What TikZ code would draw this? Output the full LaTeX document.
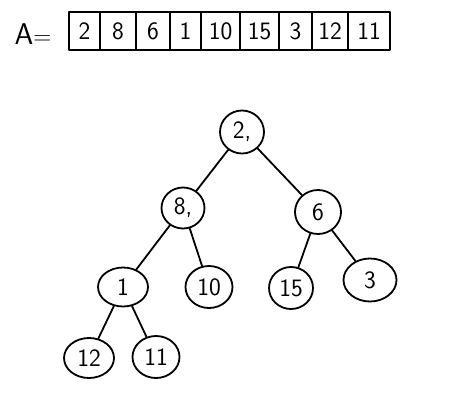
\documentclass[tikz,border=0pt]{standalone}
\usetikzlibrary{positioning,shapes.geometric}
\begin{document}
\begin{tikzpicture}[x=1pt,y=-1pt,
  line width=1.8pt, line cap=round, line join=round,
  every node/.style={font=\sffamily\fontsize{25}{27}\selectfont},
  cell/.style={draw, minimum height=38pt, inner sep=0pt},
  vtx/.style={draw, ellipse, inner sep=0pt},
  edge/.style={draw}]
\useasboundingbox (0,0) rectangle (474,402);
% array
\node (lab) at (33,34) {\fontsize{30}{32}\selectfont A$=$};
\node[cell, minimum width=31pt] (c1) at (84.5,31) {2};
\node[cell, minimum width=36pt] (c2) at (118,31) {8};
\node[cell, minimum width=34pt] (c3) at (153,31) {6};
\node[cell, minimum width=31pt] (c4) at (185.5,31) {1};
\node[cell, minimum width=39pt] (c5) at (220.5,31) {10};
\node[cell, minimum width=39pt] (c6) at (259.5,31) {15};
\node[cell, minimum width=33pt] (c7) at (295.5,31) {3};
\node[cell, minimum width=36pt] (c8) at (330,31) {12};
\node[cell, minimum width=42pt] (c9) at (369,31) {11};
% tree
\node[vtx, minimum width=44pt, minimum height=43pt] (n2) at (242,132) {2,};
\node[vtx, minimum width=43pt, minimum height=41pt] (n8) at (183,208) {8,};
\node[vtx, minimum width=46pt, minimum height=44pt] (n6) at (318,212) {6};
\node[vtx, minimum width=50pt, minimum height=39pt] (n1) at (123,287) {1};
\node[vtx, minimum width=47pt, minimum height=42pt] (n10) at (209,287) {10};
\node[vtx, minimum width=44pt, minimum height=42pt] (n15) at (291,288) {15};
\node[vtx, minimum width=53pt, minimum height=43pt] (n3) at (370,280) {3};
\node[vtx, minimum width=50pt, minimum height=40pt] (n12) at (89,358) {12};
\node[vtx, minimum width=47pt, minimum height=42pt] (n11) at (156,357) {11};
\draw[edge] (n2) -- (n8);
\draw[edge] (n2) -- (n6);
\draw[edge] (n8) -- (n1);
\draw[edge] (n8) -- (n10);
\draw[edge] (n6) -- (n15);
\draw[edge] (n6) -- (n3);
\draw[edge] (n1) -- (n12);
\draw[edge] (n1) -- (n11);
\end{tikzpicture}
\end{document}
